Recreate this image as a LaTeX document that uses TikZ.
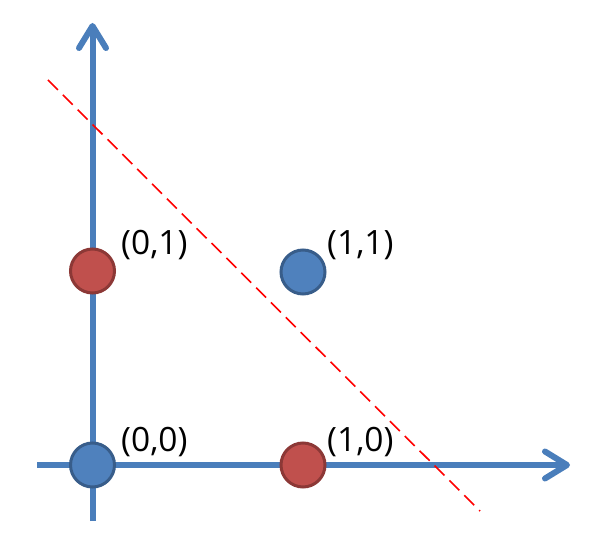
\documentclass[tikz,border=0pt]{standalone}
\usepackage{fontspec}
\setmainfont{Open Sans}
\usetikzlibrary{arrows.meta}
\definecolor{axisblue}{HTML}{4A7EBB}
\definecolor{bluefill}{HTML}{4F81BD}
\definecolor{blueline}{HTML}{385D8A}
\definecolor{redfill}{HTML}{C0504D}
\definecolor{redline}{HTML}{8C3836}
\tikzset{
  axisline/.style={draw=axisblue, line width=6pt, -{Straight Barb[length=22pt,width=27pt,round]}},
  bluept/.style={circle, minimum size=44pt, inner sep=0pt, fill=bluefill, draw=blueline, line width=3pt},
  redpt/.style={circle, minimum size=44pt, inner sep=0pt, fill=redfill, draw=redline, line width=3pt},
  ptlabel/.style={anchor=base west, inner sep=0pt, font=\fontsize{33.5}{38}\selectfont},
  sepline/.style={draw=red, line width=1.6pt, dash pattern=on 14pt off 7pt}
}
\begin{document}
\begin{tikzpicture}[x=1pt,y=-1pt]
\useasboundingbox (0,0) rectangle (595,548);
\coordinate (ybot) at (92.5,521);
\coordinate (ytop) at (92.5,23);
\coordinate (xleft) at (37,465);
\coordinate (xright) at (570,465);
\coordinate (ds) at (48,80);
\coordinate (de) at (480,511);
\draw[axisline] (ybot) -- (ytop);
\draw[axisline] (xleft) -- (xright);
\draw[sepline] (ds) -- (de);
\node[bluept] (p00) at (92.5,465) {};
\node[redpt] (p01) at (92.5,271) {};
\node[bluept] (p11) at (303,272) {};
\node[redpt] (p10) at (303,465) {};
\node[ptlabel] (l01) at (121,255) {(0,1)};
\node[ptlabel] (l11) at (327,255) {(1,1)};
\node[ptlabel] (l00) at (121,451) {(0,0)};
\node[ptlabel] (l10) at (327,451) {(1,0)};
\end{tikzpicture}
\end{document}
